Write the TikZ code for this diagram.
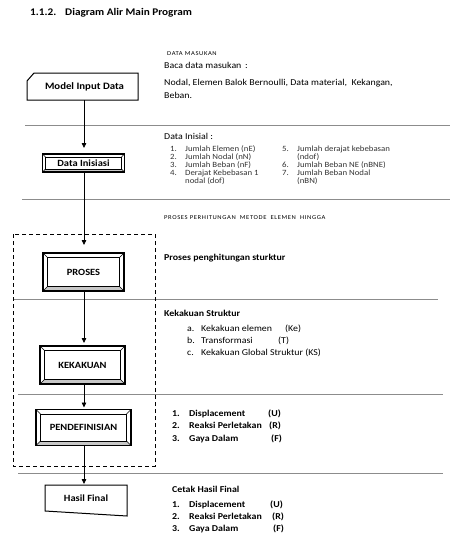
\documentclass[tikz,border=0pt]{standalone}
\usepackage{fontspec}
\setmainfont{Carlito}[FakeStretch=1.1]
\newfontfamily\capsfont{Carlito}[FakeStretch=1.1,LetterSpace=10]
\usetikzlibrary{arrows.meta,calc}
\tikzset{
  txt/.style={anchor=base west, inner sep=0pt, font=\fontsize{9}{11}\selectfont},
  smalltxt/.style={anchor=base west, inner sep=0pt, font=\fontsize{8}{9}\selectfont, text=black!80},
  capstxt/.style={anchor=base west, inner sep=0pt, font=\capsfont\fontsize{6}{7}\selectfont},
  boldtxt/.style={anchor=base west, inner sep=0pt, font=\bfseries\fontsize{9}{11}\selectfont},
  titletxt/.style={anchor=base west, inner sep=0pt, font=\bfseries\fontsize{10.2}{12}\selectfont},
  sepline/.style={draw=black!45, line width=0.9pt},
  plainbox/.style={inner sep=0pt, outer sep=0pt, font=\bfseries\fontsize{9.8}{11}\selectfont},
  framebox/.style={draw, line width=1.1pt, inner sep=0pt, outer sep=0pt, font=\bfseries\fontsize{9.5}{11}\selectfont},
  flow/.style={line width=0.8pt, -{Triangle[width=4.5pt,length=5pt]}},
  groupbox/.style={dashed, line width=0.9pt, dash pattern=on 4pt off 3pt},
}
\newcommand\bevelframe[2]{%
  \fill[black!22] (#1.south west) -- (#1.south east) -- ([shift={(-#2,-#2)}]#1.south east) -- ([shift={(#2,-#2)}]#1.south west) -- cycle;
  \draw[line width=0.6pt] ([shift={(#2,#2)}]#1.north west) rectangle ([shift={(-#2,-#2)}]#1.south east);
  \draw[line width=0.5pt] (#1.north west) -- ([shift={(#2,#2)}]#1.north west)
    (#1.north east) -- ([shift={(-#2,#2)}]#1.north east)
    (#1.south west) -- ([shift={(#2,-#2)}]#1.south west)
    (#1.south east) -- ([shift={(-#2,-#2)}]#1.south east);
  \draw[line width=1.1pt] (#1.north west) rectangle (#1.south east);
}
\begin{document}
\begin{tikzpicture}[x=1pt,y=-1pt]
\useasboundingbox (0,0) rectangle (474,538);
% title
\node[titletxt] (t1) at (30,15) {1.1.2.};
\node[titletxt] (t2) at (65,15) {Diagram Alir Main Program};

% separator lines
\draw[sepline] (25,125) -- (450,125);
\draw[sepline] (22,199) -- (450,199);
\draw[sepline] (13,299) -- (438,299);
\draw[sepline] (18,394) -- (443,394);
\draw[sepline] (18,473) -- (443,473);

% dashed group
\draw[groupbox] (13,234) rectangle (155,466);

% column for connectors
\coordinate (col) at (84,0);

% Model Input Data
\node[plainbox, minimum width=111pt, minimum height=27pt] (mid) at (82.5,86.5) {\hspace{4pt}Model Input Data};
\draw[line width=1pt] ([yshift=-8pt]mid.north west) -- ([xshift=7pt]mid.north west) -- (mid.north east) -- (mid.south east) -- (mid.south west) -- cycle;

% Data Inisiasi
\node[framebox, minimum width=82pt, minimum height=18pt] (din) at (83.5,163) {Data Inisiasi};
\bevelframe{din}{3}

% PROSES
\node[framebox, minimum width=81pt, minimum height=38pt] (pro) at (83.5,272) {PROSES};
\bevelframe{pro}{4.5}

% KEKAKUAN
\node[framebox, minimum width=85pt, minimum height=38pt] (kek) at (82.5,365) {KEKAKUAN};
\bevelframe{kek}{4.5}

% PENDEFINISIAN
\node[framebox, minimum width=95pt, minimum height=36pt] (pen) at (83.5,427.5) {PENDEFINISIAN};
\bevelframe{pen}{4.5}

% Hasil Final
\node[plainbox, minimum width=82pt, minimum height=26pt, font=\bfseries\fontsize{9.5}{11}\selectfont] (has) at (86,498) {Hasil Final};
\draw[line width=1pt] (has.north west) -- (has.north east) -- ([yshift=-5pt]has.south east) -- (has.south west) -- cycle;

% connectors
\draw[flow, shorten >=6pt] (col|-mid.south) -- (col|-din.north);
\draw[flow, shorten >=8pt] (col|-din.south) -- (col|-pro.north);
\draw[flow, shorten >=3pt] (col|-pro.south) -- (col|-kek.north);
\draw[flow, shorten >=2pt] (col|-kek.south) -- (col|-pen.north);
\draw[flow, shorten >=1pt] (col|-pen.south) -- (col|-has.north);

% DATA MASUKAN
\node[capstxt] (dm) at (167,55) {DATA MASUKAN};
\node[txt] (bd) at (164,68) {Baca data masukan \,:};
\node[txt] (nd) at (164,85) {Nodal, Elemen Balok Bernoulli, Data material, \ Kekangan,};
\node[txt] (bb) at (164,98) {Beban.};

% Data Inisial
\node[txt] (di) at (164,139) {Data Inisial :};
\node[smalltxt] (n1) at (170,151.5) {1.};
\node[smalltxt] (l1) at (185,151.5) {Jumlah Elemen (nE)};
\node[smalltxt] (n2) at (170,159.5) {2.};
\node[smalltxt] (l2) at (185,159.5) {Jumlah Nodal (nN)};
\node[smalltxt] (n3) at (170,167.5) {3.};
\node[smalltxt] (l3) at (185,167.5) {Jumlah Beban (nF)};
\node[smalltxt] (n4) at (170,175.5) {4.};
\node[smalltxt] (l4) at (185,175.5) {Derajat Kebebasan 1};
\node[smalltxt] (l4b) at (185,183.5) {nodal (dof)};
\node[smalltxt] (n5) at (282,151.5) {5.};
\node[smalltxt] (l5) at (297,151.5) {Jumlah derajat kebebasan};
\node[smalltxt] (l5b) at (297,159.5) {(ndof)};
\node[smalltxt] (n6) at (282,167.5) {6.};
\node[smalltxt] (l6) at (297,167.5) {Jumlah Beban NE (nBNE)};
\node[smalltxt] (n7) at (282,175.5) {7.};
\node[smalltxt] (l7) at (297,175.5) {Jumlah Beban Nodal};
\node[smalltxt] (l7b) at (297,183.5) {(nBN)};

% PROSES PERHITUNGAN
\node[capstxt] (pp) at (164,219) {PROSES PERHITUNGAN \ METODE \ ELEMEN \ HINGGA};

\node[boldtxt] (ps) at (164,260) {Proses penghitungan sturktur};

% Kekakuan Struktur
\node[boldtxt] (ks) at (164,316) {Kekakuan Struktur};
\node[txt] (ka) at (187,331) {a.};
\node[txt] (kat) at (201,331) {Kekakuan elemen};
\node[txt] (kau) at (285,331) {(Ke)};
\node[txt] (kb) at (187,343) {b.};
\node[txt] (kbt) at (201,343) {Transformasi};
\node[txt] (kbu) at (278,343) {(T)};
\node[txt] (kc) at (187,355) {c.};
\node[txt] (kct) at (201,355) {Kekakuan Global Struktur (KS)};

% results 1
\node[boldtxt] (r1n) at (172,416) {1.};
\node[boldtxt] (r1t) at (189,416) {Displacement};
\node[boldtxt] (r1u) at (268,416) {(U)};
\node[boldtxt] (r2n) at (172,428) {2.};
\node[boldtxt] (r2t) at (189,428) {Reaksi Perletakan};
\node[boldtxt] (r2u) at (269,428) {(R)};
\node[boldtxt] (r3n) at (172,441) {3.};
\node[boldtxt] (r3t) at (189,441) {Gaya Dalam};
\node[boldtxt] (r3u) at (271,441) {(F)};

% Cetak Hasil Final
\node[boldtxt] (ch) at (172,492) {Cetak Hasil Final};
\node[boldtxt] (s1n) at (172,507) {1.};
\node[boldtxt] (s1t) at (189,507) {Displacement};
\node[boldtxt] (s1u) at (270,507) {(U)};
\node[boldtxt] (s2n) at (172,519) {2.};
\node[boldtxt] (s2t) at (189,519) {Reaksi Perletakan};
\node[boldtxt] (s2u) at (272,519) {(R)};
\node[boldtxt] (s3n) at (172,531) {3.};
\node[boldtxt] (s3t) at (189,531) {Gaya Dalam};
\node[boldtxt] (s3u) at (273,531) {(F)};
\end{tikzpicture}
\end{document}
